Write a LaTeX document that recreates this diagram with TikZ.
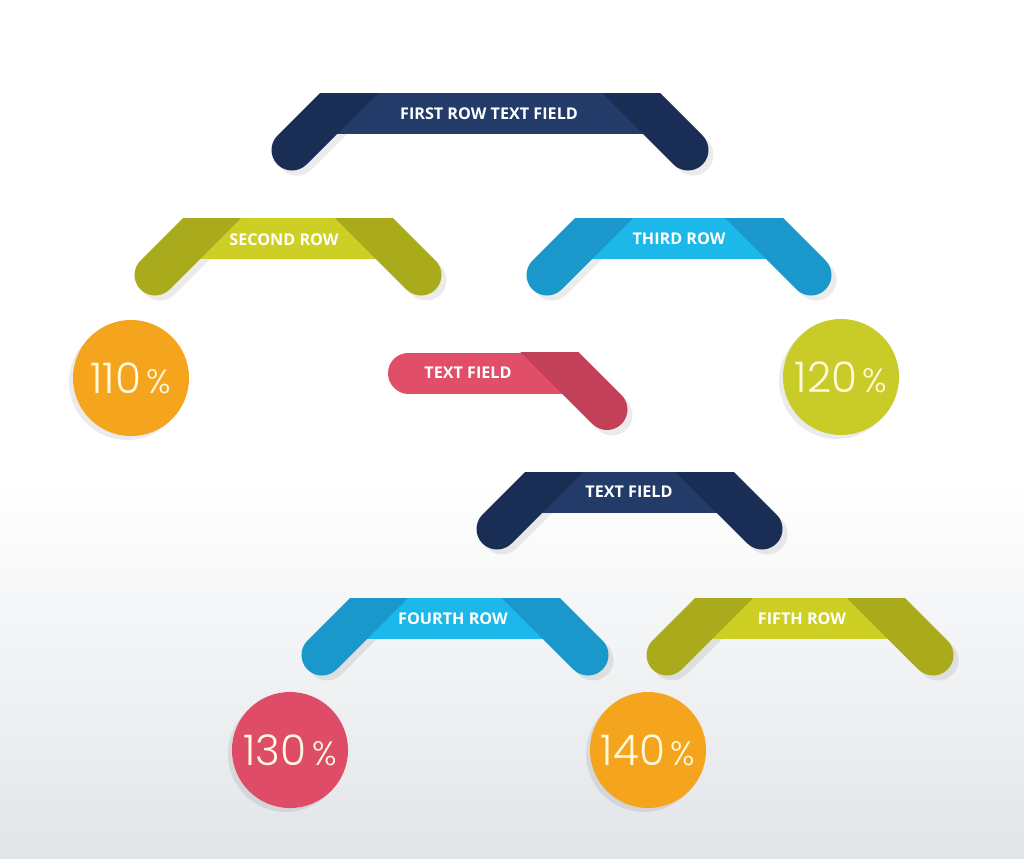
\documentclass[tikz,border=0pt]{standalone}
\usepackage{fontspec}
\setmainfont{Open Sans}
\newfontfamily\thinfont{Poppins Light}
\usepackage{tikz}
\usetikzlibrary{calc}
\definecolor{navylight}{RGB}{34,59,104}
\definecolor{navydark}{RGB}{26,45,84}
\definecolor{cyanlight}{RGB}{28,184,234}
\definecolor{cyandark}{RGB}{26,152,204}
\definecolor{olivelight}{RGB}{206,207,36}
\definecolor{olivedark}{RGB}{170,171,28}
\definecolor{pinklight}{RGB}{224,78,104}
\definecolor{pinkdark}{RGB}{194,64,88}
\definecolor{orangedisc}{RGB}{245,164,30}
\definecolor{olivedisc}{RGB}{201,203,40}
\definecolor{pinkdisc}{RGB}{223,76,104}
\definecolor{cream}{RGB}{255,249,222}
\definecolor{bggray}{RGB}{226,229,232}
\tikzset{
	arm/.style={line width=1.025cm, line cap=round},
	armshadow/.style={line width=1.025cm, line cap=round, black, opacity=0.08},
	bandtext/.style={text=white, font=\bfseries\fontsize{11.5}{11.5}\selectfont, inner sep=0pt},
	disc/.style={circle, minimum size=2.9cm, inner sep=0pt, text=cream, font=\thinfont},
	discshadow/.style={black, opacity=0.08}
}
% #1/#2 band and arm colours, (#3,#4) top left corner, #5 top width
\def\ribbon[#1/#2](#3,#4)(#5){%
	\begin{scope}
		\clip (0,#4) rectangle (1024,858);
		\draw[armshadow] ($(#3,#4)+(-23,62)$) -- ++(80,-80);
		\draw[armshadow] ($(#3+#5,#4)+(33,62)$) -- ++(-80,-80);
		\fill[#1] (#3,#4) rectangle ++(#5,41);
		\draw[arm,#2] ($(#3,#4)+(-28,57)$) -- ++(80,-80);
		\draw[arm,#2] ($(#3+#5,#4)+(28,57)$) -- ++(-80,-80);
	\end{scope}}
\def\pct#1{{\fontsize{30}{30}\selectfont #1}\kern0.4em{\fontsize{24}{24}\selectfont\%}}

\begin{document}
\begin{tikzpicture}[x=0.025cm, y=-0.025cm]
		%%%%% START %%%%%
		
		\fill[white] (0,0) rectangle (1024,480);
		\shade[top color=white, bottom color=bggray] (0,480) rectangle (1024,858);
		
		\ribbon[navylight/navydark](320,93)(340)
		\node[bandtext] (first) at (489,114) {FIRST ROW TEXT FIELD};
		
		\ribbon[olivelight/olivedark](183,218)(210)
		\node[bandtext] (second) at (284,240) {SECOND ROW};
		
		\ribbon[cyanlight/cyandark](575,218)(208)
		\node[bandtext] (third) at (679,239) {THIRD ROW};
		
		\begin{scope}
			\clip (0,352.5) rectangle (1024,858);
			\draw[armshadow] (612,415) -- ++(-80,-80);
			\draw[arm,pinklight] (408.5,373) -- (560,373);
			\draw[arm,pinkdark] (607,409.5) -- ++(-80,-80);
		\end{scope}
		\node[bandtext] (field) at (468,373) {TEXT FIELD};
		
		\ribbon[navylight/navydark](525,472)(209)
		\node[bandtext] (field2) at (629,492) {TEXT FIELD};
		
		\ribbon[cyanlight/cyandark](350,598)(210)
		\node[bandtext] (fourth) at (453,619) {FOURTH ROW};
		
		\ribbon[olivelight/olivedark](695,598)(210)
		\node[bandtext] (fifth) at (802,619) {FIFTH ROW};
		
		\fill[discshadow] (127,382) circle (58);
		\node[disc, fill=orangedisc] (p110) at (131,378) {\pct{110}};
		\fill[discshadow] (837,381) circle (58);
		\node[disc, fill=olivedisc] (p120) at (841,377) {\pct{120}};
		\fill[discshadow] (286,754) circle (58);
		\node[disc, fill=pinkdisc] (p130) at (290,750) {\pct{130}};
		\fill[discshadow] (644,754) circle (58);
		\node[disc, fill=orangedisc] (p140) at (648,750) {\pct{140}};
		
		%%%%% END %%%%%
	\end{tikzpicture}
\end{document}
